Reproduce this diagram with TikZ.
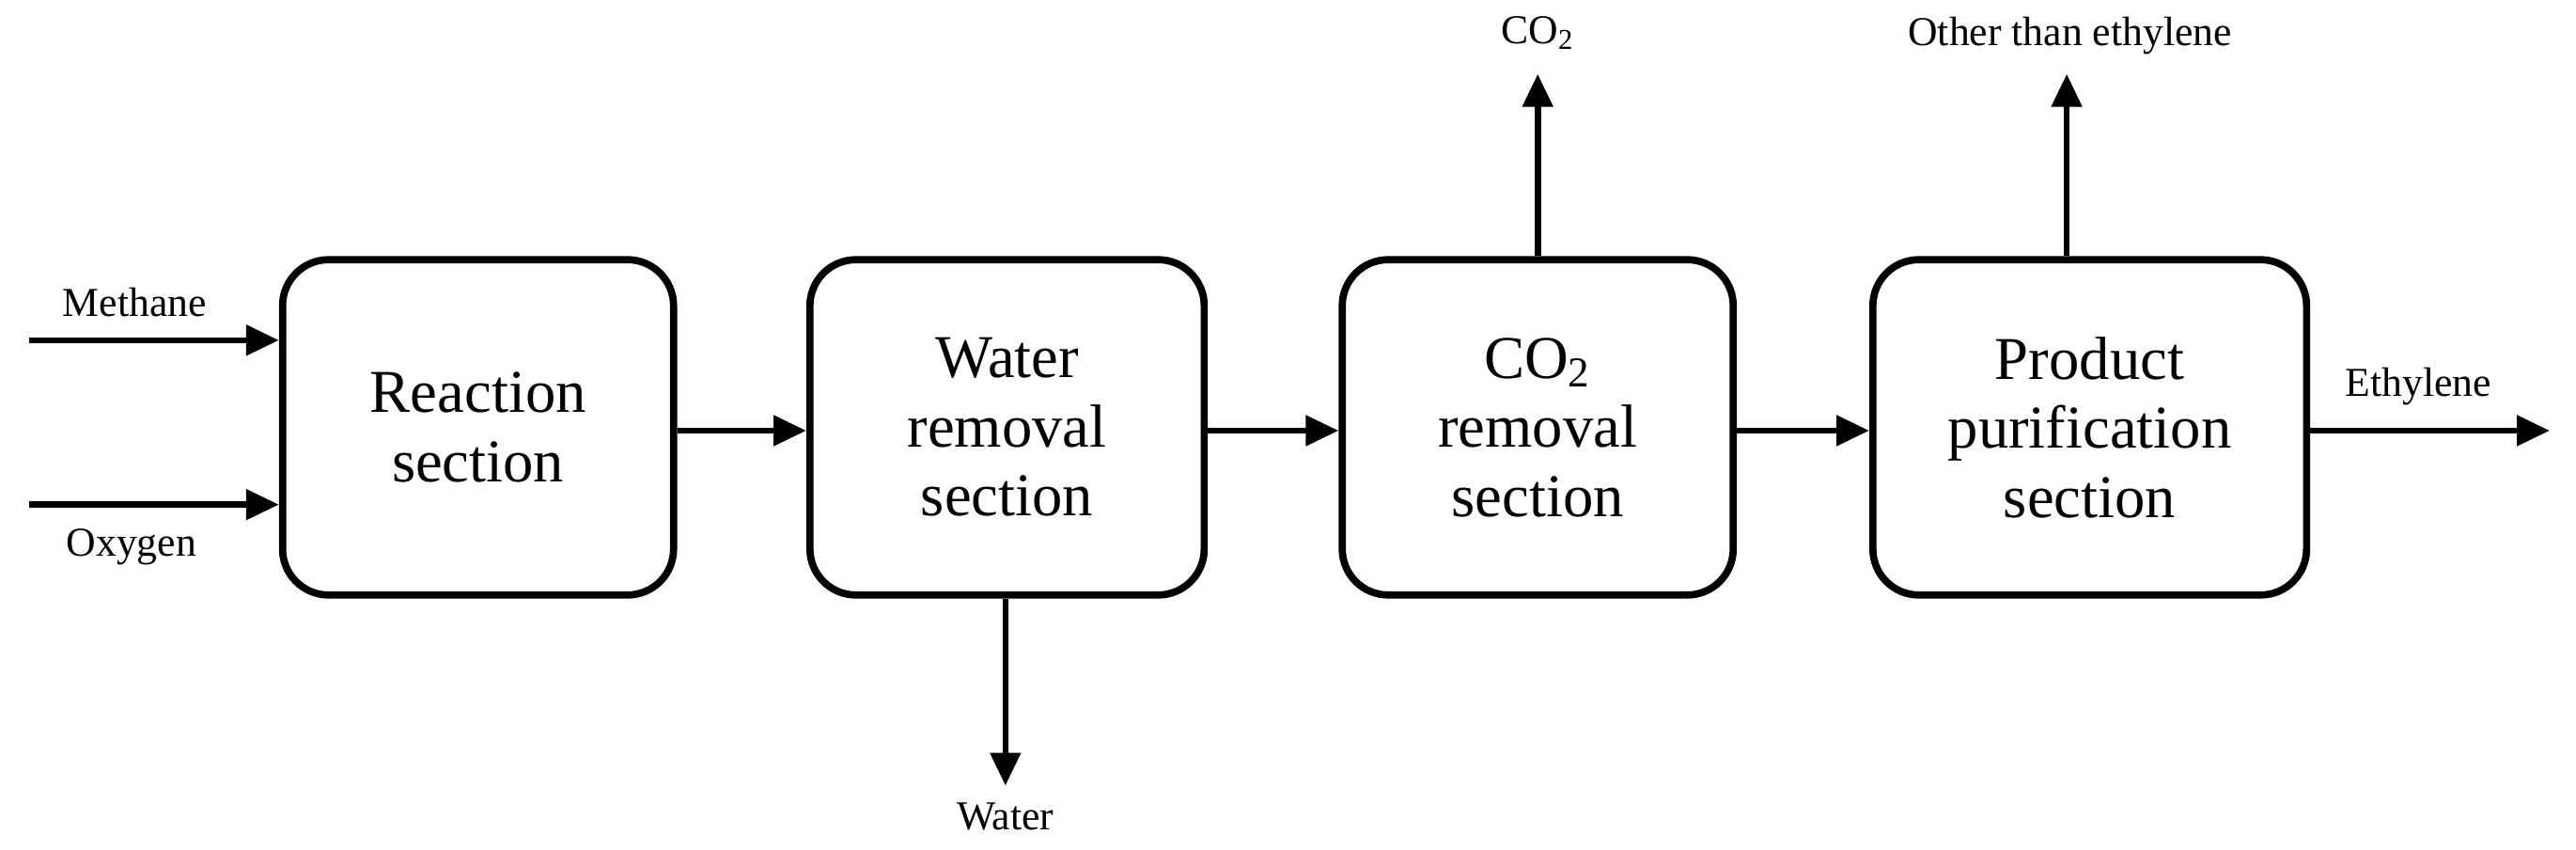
\documentclass[tikz,border=0pt]{standalone}
\usepackage{fontspec}
\setmainfont{Liberation Serif}
\usetikzlibrary{arrows.meta}
\begin{document}
\begin{tikzpicture}[x=0.5pt,y=-0.5pt,
 box/.style={draw,line width=2.2pt,rounded corners=14pt,align=center,font=\fontsize{18.5}{21}\selectfont,inner sep=0pt},
 arr/.style={line width=1.9pt,-{Triangle[length=10pt,width=9pt]}},
 lab/.style={font=\fontsize{12.5}{14}\selectfont,inner sep=0pt}]
\useasboundingbox (0,0) rectangle (1568,517);
\node[box,minimum width=119pt,minimum height=102pt] (b1) at (291,260) {Reaction\\section};
\node[box,minimum width=120pt,minimum height=102pt] (b2) at (613,260) {Water\\removal\\section};
\node[box,minimum width=119pt,minimum height=102pt] (b3) at (936,260) {CO\textsubscript{2}\\removal\\section};
\node[box,minimum width=132pt,minimum height=102pt] (b4) at (1272,260) {Product\\purification\\section};
\coordinate (m) at (18,207);
\coordinate (o) at (18,307);
\coordinate (e) at (1552,262);
\coordinate (w) at (612,478);
\coordinate (c) at (936,45);
\coordinate (t) at (1258,45);
\draw[arr] (m) -- (m -| b1.west);
\draw[arr] (o) -- (o -| b1.west);
\draw[arr] (b1.east |- 0,262) -- (b2.west |- 0,262);
\draw[arr] (b2.east |- 0,262) -- (b3.west |- 0,262);
\draw[arr] (b3.east |- 0,262) -- (b4.west |- 0,262);
\draw[arr] (b4.east |- e) -- (e);
\draw[arr] (b2.south -| w) -- (w);
\draw[arr] (b3.north -| c) -- (c);
\draw[arr] (b4.north -| t) -- (t);
\node[lab] (lm) at (82,184) {Methane};
\node[lab] (lo) at (80,333) {Oxygen};
\node[lab] (le) at (1472,235) {Ethylene};
\node[lab] (lw) at (612,497) {Water};
\node[lab] (lc) at (936,20) {CO\textsubscript{2}};
\node[lab] (lt) at (1260,22) {Other than ethylene};
\end{tikzpicture}
\end{document}
